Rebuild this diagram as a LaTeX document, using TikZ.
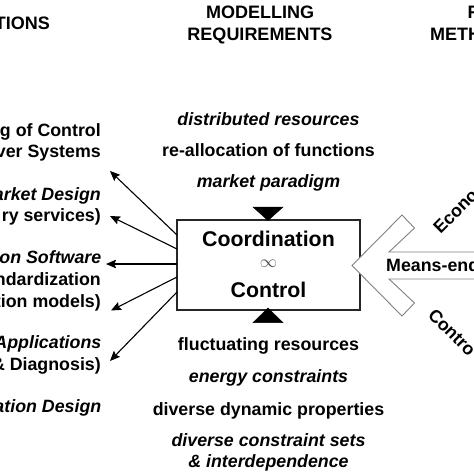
\documentclass[tikz,border=0pt]{standalone}
\usepackage{fontspec}
\setmainfont{Liberation Sans}
\usetikzlibrary{arrows.meta}
\begin{document}
\begin{tikzpicture}[x=1pt,y=-1pt,
  txt/.style={font=\fontsize{17.8}{21.5}\selectfont\bfseries, inner sep=0pt, anchor=base},
  itx/.style={txt, font=\fontsize{17.8}{21.5}\selectfont\bfseries\itshape},
  lt/.style={txt, anchor=base east},
  lit/.style={itx, anchor=base east},
  hdr/.style={txt, font=\fontsize{18}{21.5}\selectfont\bfseries},
  big/.style={txt, font=\fontsize{21.3}{24}\selectfont\bfseries},
  ccbox/.style={draw=black!85, line width=1.2pt, minimum width=183pt, minimum height=90pt, inner sep=0pt},
  tri/.style={fill=black, draw=black, line width=0.5pt},
  arr/.style={line width=1.1pt, -{Stealth[length=10pt,width=8.5pt,inset=1.5pt]}},
  chev/.style={draw=black!50, line width=0.9pt, fill=white, line join=miter}
]
\useasboundingbox (0,0) rectangle (474,474);
\clip (0,0) rectangle (474,474);

% headers
\node[hdr, anchor=base east] (hA) at (50,29.3) {TIONS};
\node[hdr] (hM1) at (260,18.3) {MODELLING};
\node[hdr] (hM2) at (260,40) {REQUIREMENTS};
\node[hdr, anchor=base west] (hR1) at (467.5,18.3) {R};
\node[hdr, anchor=base west] (hR2) at (430,40) {METH};

% left application texts
\node[lt]  (l1a) at (101,136) {g of Control};
\node[lt]  (l1b) at (101,157) {ver Systems};
\node[lit] (l2a) at (101,200) {arket Design};
\node[lt]  (l2b) at (101,221) {ry services)};
\node[lit] (l3a) at (101.5,263) {on Software};
\node[lt]  (l3b) at (101,285) {ndardization};
\node[lt]  (l3c) at (101,307) {tion models)};
\node[lit] (l4a) at (101.5,348) {Applications};
\node[lt]  (l4b) at (101,370) {\& Diagnosis)};
\node[lit] (l5)  at (101.5,412) {ation Design};

% modelling requirements, top
\node[itx] (m1) at (268.5,125) {distributed resources};
\node[txt] (m2) at (268.5,156.7) {re-allocation of functions};
\node[itx] (m3) at (268.5,187.3) {market paradigm};

% central box
\node[ccbox] (cc) at (268.5,265) {};
\node[big] (cc1) at (268.5,246) {Coordination};
\node[inner sep=0pt, text=black!70] (cc2) at (268.5,263.5) {\fontsize{17}{17}\selectfont$\infty$};
\node[big] (cc3) at (268.5,297.7) {Control};

% triangles
\draw[tri] (253,207) -- (283,207) -- (268,220.5) -- cycle;
\draw[tri] (253,322.7) -- (283,322.7) -- (268,308) -- cycle;

% modelling requirements, bottom
\node[txt] (b1) at (268.5,350.7) {fluctuating resources};
\node[itx] (b2) at (268.5,382.7) {energy constraints};
\node[txt] (b3) at (268.5,415) {diverse dynamic properties};
\node[itx] (b4) at (268.5,446.7) {diverse constraint sets};
\node[itx] (b5) at (268.5,467.3) {\& interdependence};

% arrows to the left
\coordinate (s1) at (177,235);
\coordinate (s2) at (177,249);
\coordinate (s3) at (177,264);
\coordinate (s4) at (177,277);
\coordinate (s5) at (177,292);
\coordinate (t1) at (110,171);
\coordinate (t2) at (110,216);
\coordinate (t3) at (106,264);
\coordinate (t4) at (111,310.5);
\coordinate (t5) at (110,361);
\draw[arr] (s1) -- (t1);
\draw[arr] (s2) -- (t2);
\draw[arr] (s3) -- (t3);
\draw[arr] (s4) -- (t4);
\draw[arr] (s5) -- (t5);

% hollow chevron arrow from the right
\draw[chev] (352,265.5) -- (402,215) -- (414.5,228) -- (389,252) -- (480,252)
  -- (480,279) -- (389,279) -- (414.5,303) -- (402,316) -- cycle;
\node[txt, anchor=base west] (me) at (386,271) {Means-end};
\node[txt, anchor=base west, rotate=45] (ec) at (440.5,235) {Econo};
\node[txt, anchor=base west, rotate=-45] (ct) at (427,316) {Contro};
\end{tikzpicture}
\end{document}
